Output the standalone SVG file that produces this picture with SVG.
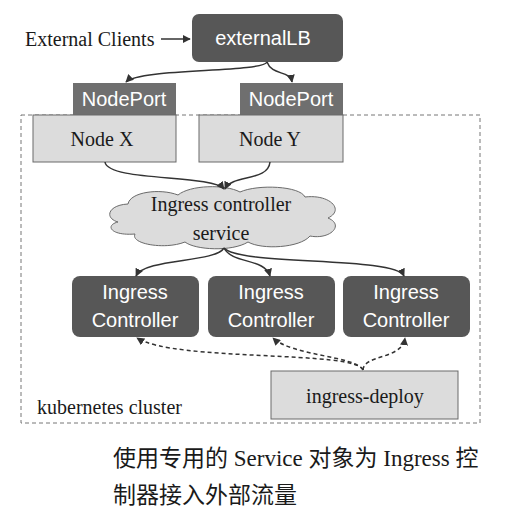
<svg xmlns="http://www.w3.org/2000/svg" width="519" height="518" viewBox="0 0 519 518">
<style>
.dark{fill:#575757;}
.np{fill:#6f6f6f;}
.light{fill:#dcdcdc;stroke:#6a6a6a;stroke-width:1;}
.wt{fill:#ffffff;font-family:"Liberation Sans",Arial,sans-serif;font-size:20px;text-anchor:middle;}
.st{fill:#1a1a1a;font-family:"Liberation Serif","Times New Roman",serif;font-size:20px;text-anchor:middle;}
.lt{fill:#1a1a1a;font-family:"Liberation Serif","Times New Roman",serif;font-size:20px;}
.conn{fill:none;stroke:#333;stroke-width:1.5;}
.dash{stroke-dasharray:4 3;}
.cap{fill:#1a1a1a;font-family:"Liberation Serif","Noto Sans CJK SC",serif;font-size:23px;}
</style>
<defs>
<marker id="ah" viewBox="0 0 10 10" refX="9" refY="5" markerWidth="8" markerHeight="8" orient="auto" markerUnits="userSpaceOnUse">
<path d="M0,0 L10,5 L0,10 Z" fill="#333"/>
</marker>
</defs>
<rect id="cluster" x="21" y="115" width="459" height="308" fill="none" stroke="#777" stroke-width="1" stroke-dasharray="4 3"/>
<text class="lt" x="37" y="414">kubernetes cluster</text>
<g id="external-clients">
<text class="lt" x="25" y="46">External Clients</text>
</g>
<g id="externalLB">
<rect class="dark" x="192" y="14" width="151" height="48" rx="7"/>
<text class="wt" x="263" y="45">externalLB</text>
</g>
<g id="nodeport-x">
<rect class="np" x="73" y="83" width="103" height="32"/>
<text class="wt" x="124" y="106">NodePort</text>
</g>
<g id="nodeport-y">
<rect class="np" x="240" y="83" width="103" height="32"/>
<text class="wt" x="291" y="106">NodePort</text>
</g>
<g id="node-x">
<rect class="light" x="33" y="115" width="143" height="47"/>
<text class="st" x="102" y="146">Node X</text>
</g>
<g id="node-y">
<rect class="light" x="199" y="115" width="144" height="47"/>
<text class="st" x="270" y="146">Node Y</text>
</g>
<g id="ingress-service">
<path class="light" d="M118,222 C104,218 108,205 128,204 C130,192 160,188 178,195 C190,185 225,184 240,192 C258,184 300,186 305,197 C330,194 345,210 328,218 C345,225 330,240 310,236 C300,248 262,250 248,242 C232,252 195,250 185,242 C165,250 130,244 135,234 C110,236 105,225 118,222 Z"/>
<text class="st" x="221" y="211">Ingress controller</text>
<text class="st" x="221" y="240">service</text>
</g>
<g id="ic-1">
<rect class="dark" x="72" y="276" width="127" height="61" rx="8"/>
<text class="wt" x="135" y="299">Ingress</text>
<text class="wt" x="135" y="327">Controller</text>
</g>
<g id="ic-2">
<rect class="dark" x="208" y="276" width="127" height="61" rx="8"/>
<text class="wt" x="271" y="299">Ingress</text>
<text class="wt" x="271" y="327">Controller</text>
</g>
<g id="ic-3">
<rect class="dark" x="343" y="276" width="127" height="61" rx="8"/>
<text class="wt" x="406" y="299">Ingress</text>
<text class="wt" x="406" y="327">Controller</text>
</g>
<g id="ingress-deploy">
<rect class="light" x="271" y="371" width="187" height="48"/>
<text class="st" x="365" y="403">ingress-deploy</text>
</g>
<g id="connectors">
<path class="conn" d="M161,39 L190,39" marker-end="url(#ah)"/>
<path class="conn" d="M267,62 C262,73 140,68 126,82" marker-end="url(#ah)"/>
<path class="conn" d="M267,62 C272,76 290,70 292,82" marker-end="url(#ah)"/>
<path class="conn" d="M105,162 C108,182 212,174 224,189" marker-end="url(#ah)"/>
<path class="conn" d="M270,162 C268,182 232,174 225,189" marker-end="url(#ah)"/>
<path class="conn" d="M224,248 C215,263 145,258 136,276" marker-end="url(#ah)"/>
<path class="conn" d="M224,248 C232,264 265,258 270,276" marker-end="url(#ah)"/>
<path class="conn" d="M224,248 C240,266 395,256 404,276" marker-end="url(#ah)"/>
<path class="conn dash" d="M363,370 C356,350 175,362 137,338" marker-end="url(#ah)"/>
<path class="conn dash" d="M363,370 C356,356 292,356 273,338" marker-end="url(#ah)"/>
<path class="conn dash" d="M363,370 C364,354 402,360 405,338" marker-end="url(#ah)"/>
</g>
<text class="cap" x="113" y="466">使用专用的 Service 对象为 Ingress 控</text>
<text class="cap" x="113" y="503">制器接入外部流量</text>
</svg>
